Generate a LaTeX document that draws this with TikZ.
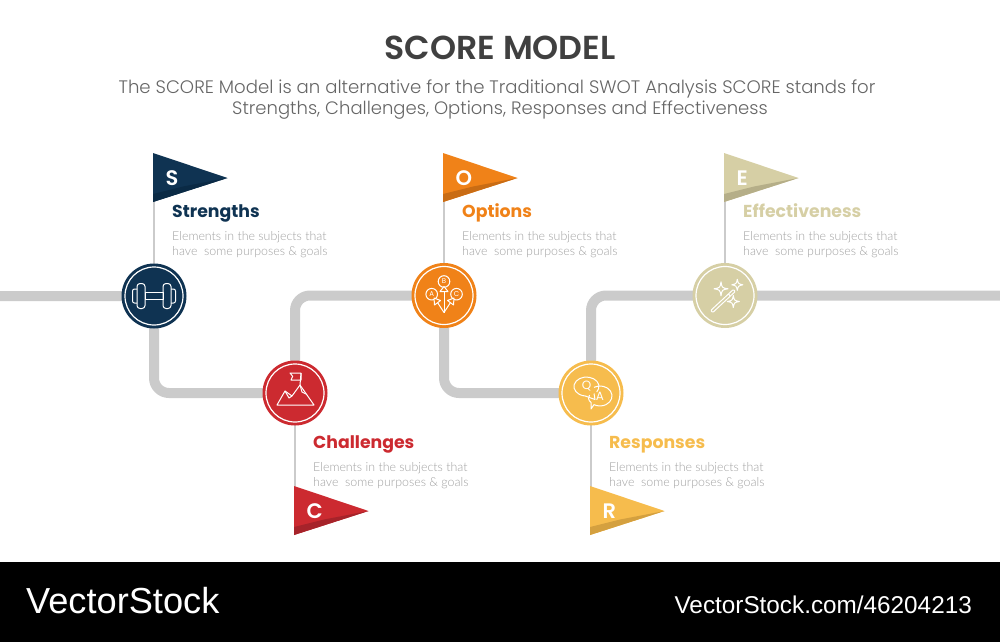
\documentclass[tikz,border=0pt]{standalone}
\usepackage{fontspec}
\setmainfont{Poppins}
\newfontfamily\titlefont{Poppins SemiBold}
\newfontfamily\subfont{Poppins Light}
\newfontfamily\bodyfont{Lato Light}
\newfontfamily\markfont{Liberation Sans}
\usetikzlibrary{positioning,calc,backgrounds}

\definecolor{navy}{HTML}{0F3352}
\definecolor{navyd}{HTML}{0A2A45}
\definecolor{redc}{HTML}{CC2A30}
\definecolor{redd}{HTML}{A6232A}
\definecolor{orangeo}{HTML}{F08218}
\definecolor{oranged}{HTML}{C96C14}
\definecolor{yellowr}{HTML}{F6BC4D}
\definecolor{yellowd}{HTML}{D4A03F}
\definecolor{khaki}{HTML}{D6CFA5}
\definecolor{khakid}{HTML}{B5AE88}
\definecolor{track}{HTML}{CBCBCB}
\definecolor{bodygray}{HTML}{A0A0A0}

\begin{document}
\begin{tikzpicture}[
    x=1pt, y=-1pt,
    trackline/.style={draw=track, line width=10pt, rounded corners=15pt},
    pole/.style={draw=track, line width=2pt},
    stepdisc/.style={circle, minimum size=65pt, inner sep=0pt},
    ring/.style={draw=white, line width=1.2pt},
    heading/.style={anchor=base west, inner sep=0pt, font=\fontsize{17.3}{18}\selectfont\bfseries},
    bodytext/.style={anchor=north west, inner sep=0pt, align=left, text=bodygray, font=\bodyfont\fontsize{12.4}{15.2}\selectfont},
    flagletter/.style={anchor=base west, inner sep=0pt, text=white, font=\titlefont\fontsize{21}{22}\selectfont},
    iconline/.style={draw=white, line width=1pt, line join=round, fill=none},
    iconletter/.style={text=white, inner sep=0pt, font=\fontsize{#1}{#1}\selectfont},
    iconletter/.default=7,
    subline/.style={font=\subfont\fontsize{18.1}{22}\selectfont, text=black!60, inner sep=0pt}
]
\useasboundingbox (0,0) rectangle (1000,642);

% Title
\node[font=\titlefont\fontsize{33.2}{36}\selectfont, text=black!75, inner sep=0pt] (title) at (500,48) {SCORE MODEL};
\node[subline] (subtitleone) at (497,88.5) {The SCORE Model is an alternative for the Traditional SWOT Analysis SCORE stands for};
\node[subline, font=\subfont\fontsize{18}{22}\selectfont] (subtitletwo) at (500,110.5) {Strengths, Challenges, Options, Responses and Effectiveness};

% Discs
\foreach \name/\x/\y/\main in {S/154/296/navy, C/295/393/redc, O/444/295.5/orangeo, R/591/393/yellowr, E/725/295.5/khaki} {
    \node[stepdisc, fill=\main] (disc\name) at (\x,\y) {};
    \draw[ring] (disc\name.center) circle (29);
}

% Track
\coordinate (trackstart) at (0,296);
\coordinate (trackend) at (1000,295.5);
\begin{pgfonlayer}{background}
\draw[trackline] (trackstart) -- (discS.center) -- (154,393) -- (discC.center) -- (295,295.5) -- (discO.center) -- (444,393) -- (discR.center) -- (591,295.5) -- (discE.center) -- (trackend);
\end{pgfonlayer}

% Flags
\foreach \name/\x/\y/\main/\dark/\ltr in {S/153/153/navy/navyd/S, O/443/153/orangeo/oranged/O, E/724/153/khaki/khakid/E, C/294/486/redc/redd/C, R/590/486/yellowr/yellowd/R} {
    \coordinate (flag\name) at (\x+1,\y+25);
    \begin{pgfonlayer}{background}
    \draw[pole] (flag\name) -- (disc\name.center);
    \end{pgfonlayer}
    \fill[\main] (\x,\y) -- (\x+74.5,\y+25) -- (\x,\y+49) -- cycle;
    \fill[\dark] (\x,\y+49) -- (\x+74.5,\y+25) -- (\x+30,\y+33.5) -- (\x,\y+41) -- cycle;
    \node[flagletter] (letter\name) at (\x+12.5,\y+32) {\ltr};
}

% Labels
\foreach \name/\x/\y/\main/\head in {S/172/217/navy/Strengths, O/462/217/orangeo/Options, E/743/217/khaki/Effectiveness, C/313/448/redc/Challenges, R/609/448/yellowr/Responses} {
    \node[heading, text=\main] (head\name) at (\x,\y) {\head};
    \node[bodytext] (body\name) at (\x,\y+14) {Elements in the subjects that\\have\ \ some purposes \& goals};
}

% Dumbbell icon
\begin{scope}[shift={(discS.center)}]
    \draw[iconline, rounded corners=3pt] (-17,-12.5) rectangle (-9,12.5);
    \draw[iconline, rounded corners=3pt] (9,-12.5) rectangle (17,12.5);
    \draw[iconline, rounded corners=2pt] (-17,-7) -- (-21.5,-7) -- (-21.5,7) -- (-17,7);
    \draw[iconline, rounded corners=2pt] (17,-7) -- (21.5,-7) -- (21.5,7) -- (17,7);
    \draw[iconline] (-9,-3.3) rectangle (9,3.3);
\end{scope}

% Mountain icon
\begin{scope}[shift={(discC.center)}]
    \draw[iconline] (-18,12) -- (-10,-2) -- (-3,3) -- (5,-8) -- (19,12) -- cycle;
    \draw[iconline] (-10,-2) -- (-6,5) -- (-3,3);
    \draw[iconline] (5,-8) -- (7,-1) -- (11,1);
    \draw[iconline] (5,-8) -- (6,-20);
    \draw[iconline] (-5,-20) -- (6,-20) -- (6,-13) -- (-4,-13) -- (-2.3,-16.7) -- cycle;
\end{scope}

% Options icon
\begin{scope}[shift={(discO.center)}]
    \draw[iconline] (0,-14) circle (5.8);
    \draw[iconline] (-12.3,-1.3) circle (5.8);
    \draw[iconline] (12.5,-1.3) circle (5.8);
    \draw[iconline] (0,17) -- (0,-5);
    \draw[iconline, fill=orangeo] (-4,-4) -- (0,-9) -- (4,-4) -- cycle;
    \draw[iconline] (0,17) -- (-6.5,7);
    \draw[iconline, fill=orangeo] (-10,2.5) -- (-9.5,9.5) -- (-3.5,5) -- cycle;
    \draw[iconline] (0,17) -- (6.5,7);
    \draw[iconline, fill=orangeo] (10,2.5) -- (9.5,9.5) -- (3.5,5) -- cycle;
    \node[iconletter] (iconB) at (0,-14) {B};
    \node[iconletter] (iconA) at (-12.3,-1.3) {A};
    \node[iconletter] (iconC) at (12.5,-1.3) {C};
\end{scope}

% Speech bubbles icon
\begin{scope}[shift={(discR.center)}]
    \draw[iconline] (5.7,-1) arc (-35:265:12.5pt and 9.5pt) -- (4,6.5) -- (3,0.5);
    \draw[iconline] (3,-5.7) arc (120:-120:12pt and 10pt) -- (0,16) -- (0,9.5) .. controls (-3,7) and (-3,4) .. (-1.5,2);
    \node[iconletter=12] (iconQ) at (-4.5,-7) {Q};
    \node[iconletter=12] (iconAns) at (9,3) {A};
\end{scope}

% Magic wand icon
\begin{scope}[shift={(discE.center)}]
    \draw[iconline, rounded corners=1pt] (-14.3,15) -- (8.3,-6) -- (10.3,-4) -- (-12.3,17) -- cycle;
    \draw[iconline] (3.3,-1.5) -- (5.3,0.5);
    \foreach \cx/\cy/\r in {-4/-6.7/7, 12.3/-10.7/5.5, 8.3/6/6} {
        \draw[iconline] (\cx,\cy-\r) .. controls (\cx+1,\cy-1) and (\cx+1,\cy-1) .. (\cx+\r,\cy) .. controls (\cx+1,\cy+1) and (\cx+1,\cy+1) .. (\cx,\cy+\r) .. controls (\cx-1,\cy+1) and (\cx-1,\cy+1) .. (\cx-\r,\cy) .. controls (\cx-1,\cy-1) and (\cx-1,\cy-1) .. cycle;
    }
\end{scope}

% Footer
\fill[black] (0,562) rectangle (1000,642);
\node[anchor=base west, text=white, inner sep=0pt, font=\markfont\fontsize{36.2}{40}\selectfont] (brand) at (26,613) {VectorStock};
\node[anchor=base east, text=white, inner sep=0pt, font=\markfont\fontsize{24.3}{26}\selectfont] (brandurl) at (972,613) {VectorStock.com/46204213};

\end{tikzpicture}
\end{document}
